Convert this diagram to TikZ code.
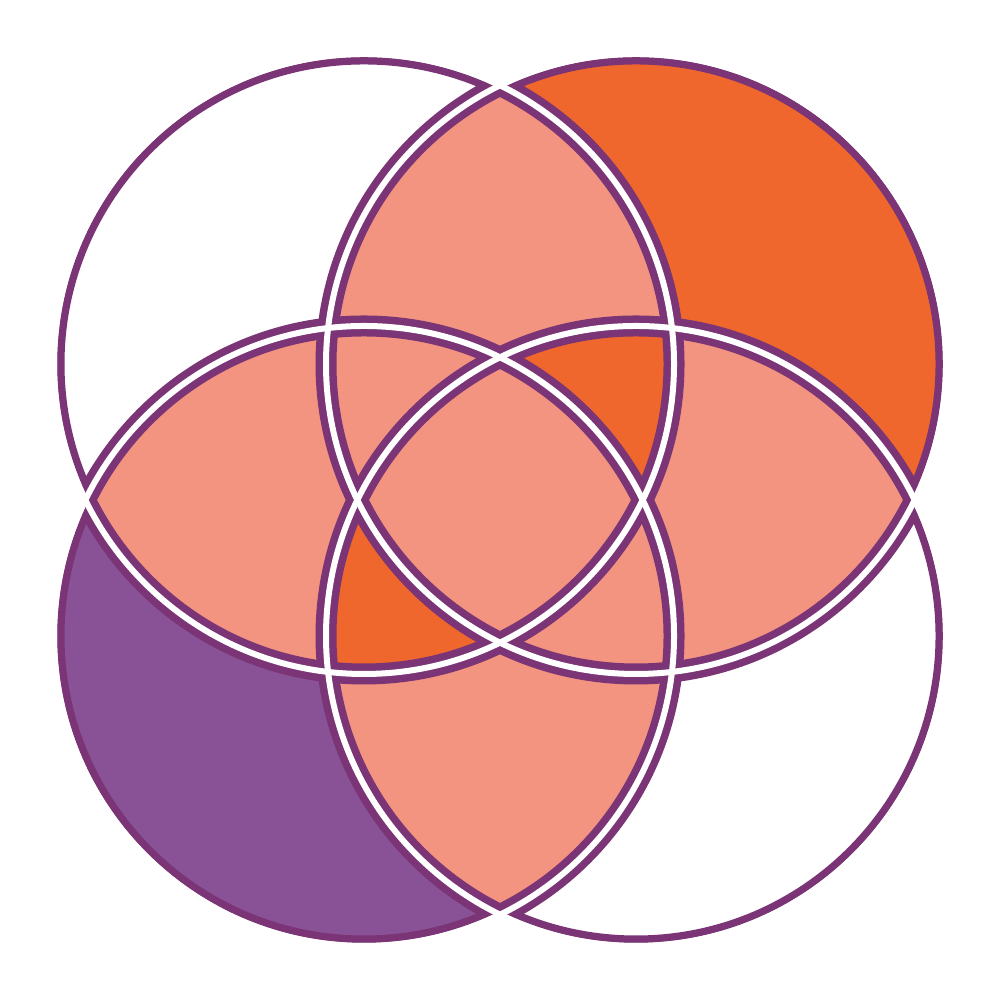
\documentclass[tikz,border=0pt]{standalone}
\usepackage{tikz}
\definecolor{ringpurple}{RGB}{123,52,117}
\definecolor{ringviolet}{RGB}{138,82,150}
\definecolor{ringorange}{RGB}{240,103,45}
\definecolor{ringsalmon}{RGB}{243,148,128}

\begin{document}
\begin{tikzpicture}[ringline/.style={line width=0.21cm, ringpurple}, ringgap/.style={line width=0.06cm, white}]
\useasboundingbox (0,0) rectangle (10,10);
\fill[white] (0,0) rectangle (10,10);

\def\rad{3.1}
\coordinate (tl) at (3.64,6.36);
\coordinate (tr) at (6.36,6.36);
\coordinate (bl) at (3.64,3.64);
\coordinate (br) at (6.36,3.64);

\fill[ringorange] (tr) circle (\rad);
\fill[ringviolet] (bl) circle (\rad);
\begin{scope}
\clip (tl) circle (\rad);
\fill[ringsalmon] (tr) circle (\rad);
\fill[ringsalmon] (bl) circle (\rad);
\end{scope}
\begin{scope}
\clip (br) circle (\rad);
\fill[ringsalmon] (tr) circle (\rad);
\fill[ringsalmon] (bl) circle (\rad);
\end{scope}
\begin{scope}
\clip (tl) circle (\rad);
\clip (tr) circle (\rad);
\clip (br) circle (\rad);
\fill[ringorange] (0,0) rectangle (10,10);
\fill[ringsalmon] (bl) circle (\rad);
\end{scope}
\begin{scope}
\clip (tl) circle (\rad);
\clip (bl) circle (\rad);
\clip (br) circle (\rad);
\fill[ringorange] (0,0) rectangle (10,10);
\fill[ringsalmon] (tr) circle (\rad);
\end{scope}

\foreach \c in {tl,tr,bl,br} \draw[ringline] (\c) circle (\rad);
\foreach \c in {tl,tr,bl,br} \draw[ringgap] (\c) circle (\rad);

\begin{scope}[even odd rule]
\clip (0,0) rectangle (10,10) (tl) circle (\rad-0.03);
\clip (0,0) rectangle (10,10) (tr) circle (\rad-0.03);
\clip (0,0) rectangle (10,10) (bl) circle (\rad-0.03);
\clip (0,0) rectangle (10,10) (br) circle (\rad-0.03);
\fill[white] (0,0) rectangle (10,10);
\end{scope}
\end{tikzpicture}
\end{document}
